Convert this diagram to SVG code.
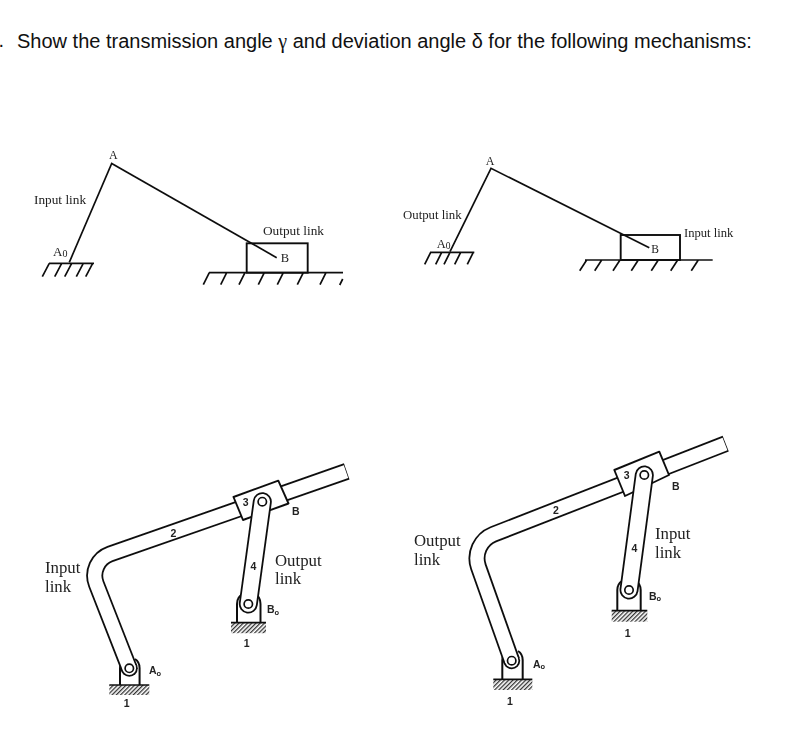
<svg xmlns="http://www.w3.org/2000/svg" width="797" height="732" viewBox="0 0 797 732">
<style>
.t{font-family:"Liberation Sans",Arial,sans-serif;font-size:20px;fill:#111}
.g{font-family:"Liberation Serif","Times New Roman",serif;font-size:20px;fill:#111}
.s{font-family:"Liberation Serif","Times New Roman",serif;fill:#222}
.lab{font-size:13.3px}
.big{font-size:16.8px}
.b{font-family:"Liberation Sans",Arial,sans-serif;font-weight:bold;font-size:10.5px;fill:#222;text-anchor:middle}
.ln{fill:none;stroke:#111;stroke-width:1.7}
.box{fill:none;stroke:#111;stroke-width:1.9}
.cl{fill:none;stroke:#111;stroke-width:2}
.ol{fill:none;stroke:#111;stroke-width:17}
.il{fill:none;stroke:#fff;stroke-width:13.4}
.ol2{fill:none;stroke:#111;stroke-width:19;stroke-linecap:round}
.il2{fill:none;stroke:#fff;stroke-width:15.4;stroke-linecap:round}
.sl{fill:#fff;stroke:#111;stroke-width:1.9;stroke-linejoin:round}
.pin{fill:#fff;stroke:#111;stroke-width:1.7}
.ec{fill:#111}
.ei{fill:#fff}
.h{fill:url(#hatch);stroke:none}
</style>
<defs>
<pattern id="hatch" width="3" height="3" patternUnits="userSpaceOnUse" patternTransform="rotate(45)">
<rect width="3" height="3" fill="#fff"/>
<rect width="1.3" height="3" fill="#333"/>
</pattern>
<filter id="soft" x="-5%" y="-5%" width="110%" height="110%"><feGaussianBlur stdDeviation="0.35"/></filter>
</defs>
<rect width="797" height="732" fill="#fff"/>
<g id="title">
<text class="t" x="-1.5" y="47">.</text>
<text class="t" x="17" y="48">Show the transmission angle <tspan class="g">γ</tspan> and deviation angle δ for the following mechanisms:</text>
</g>
<g id="mechanism-1" filter="url(#soft)">
<path class="ln" d="M69.3 262.3L111.7 163.5L276.7 257.7"/>
<rect class="box" x="246.7" y="243.3" width="61" height="29.4"/>
<path class="ln" d="M49 263.3H94M49.3 263.3l-7 13.3M61.7 263.3l-7 13.3M71.7 263.3l-7 13.3M83.3 263.3l-7 13.3M92.7 263.3l-7 13.3"/>
<path class="ln" d="M209 272.7H343M209.3 272.7l-6 12M226.7 272.7l-6 12M245 272.7l-6 12M264.3 272.7l-6 12M283.3 272.7l-6 12M303.3 272.7l-6 12M326 272.7l-6 12M342.7 279l-3 6"/>
<g class="s lab">
<text x="113.3" y="158.5" text-anchor="middle" font-size="12">A</text>
<text x="34" y="203.5">Input link</text>
<text x="53" y="256" font-size="13">A<tspan font-size="10" dy="1">0</tspan></text>
<text x="263" y="234.5">Output link</text>
<text x="285" y="262" text-anchor="middle" font-size="12.5">B</text>
</g>
</g>
<g id="mechanism-2" filter="url(#soft)">
<path class="ln" d="M450 251.7L491 168.3L649.3 247.7"/>
<rect class="box" x="620.7" y="235" width="59.3" height="25"/>
<path class="ln" d="M430 252.3H474.3M430.7 252.3l-6 12M441.7 252.3l-6 12M450 252.3l-6 12M460.7 252.3l-6 12M473.3 252.3l-6 12"/>
<path class="ln" d="M585 260H712.7M586.7 260l-7 10.7M601.7 260l-7 10.7M620 260l-7 10.7M638.3 260l-7 10.7M658.3 260l-7 10.7M677.7 260l-7 10.7M698.3 260l-7 10.7"/>
<g class="s">
<text x="490" y="165" text-anchor="middle" font-size="12">A</text>
<text x="403" y="219" font-size="12.8">Output link</text>
<text x="436.7" y="248" font-size="12.5">A<tspan font-size="9.5" dy="1">0</tspan></text>
<text x="684" y="237.3" font-size="12.6">Input link</text>
<text x="655" y="253" text-anchor="middle" font-size="11.5">B</text>
</g>
</g>
<g id="mechanism-3" filter="url(#soft)">
<g id="m3-base-a0">
<rect class="h" x="109.3" y="685" width="40" height="10"/>
<path class="ln" d="M109.3 685H149.3"/>
<path class="cl" d="M120 685V668Q120 662 125 659M139.6 685V668Q139.6 662 135 659"/>
</g>
<g id="m3-link-2">
<path class="ol" d="M346.7 471.4L110 554A23 23 0 0 0 96.3 584L129.3 668.3"/>
<circle class="ec" cx="129.3" cy="668.3" r="8.5"/>
<path class="il" d="M346 471.7L110 554A23 23 0 0 0 96.3 584L129.3 668.3"/>
<circle class="ei" cx="129.3" cy="668.3" r="6.7"/>
<circle class="pin" cx="129.3" cy="668.3" r="4.2"/>
</g>
<g id="m3-slider-3"><path class="sl" d="M233.5 497L278.3 480.7L288.5 503.5L243 520Z"/></g>
<g id="m3-base-b0">
<rect class="h" x="231" y="622.7" width="35" height="10.5"/>
<path class="ln" d="M231 622.7H266"/>
<path class="cl" d="M237 622.7V604Q237 597 243 594M260.5 622.7V604Q260.5 597 255 594"/>
</g>
<g id="m3-link-4">
<path class="ol2" d="M262.3 501.7L248.3 604"/>
<path class="il2" d="M262.3 501.7L248.3 604"/>
<circle class="pin" cx="262.3" cy="501.7" r="4.2"/>
<circle class="pin" cx="248.3" cy="604" r="4.2"/>
</g>
<g>
<text class="b" x="245.7" y="505.5">3</text>
<text class="b" x="295.7" y="514.5">B</text>
<text class="b" x="173.3" y="536.5">2</text>
<text class="b" x="253.3" y="569.5">4</text>
<text class="b" x="126.7" y="707">1</text>
<text class="b" x="246.7" y="647">1</text>
<text class="b" x="155" y="674">A<tspan font-size="7.5" dy="1.5">o</tspan></text>
<text class="b" x="273" y="613">B<tspan font-size="7.5" dy="1.5">o</tspan></text>
</g>
<g class="s big">
<text x="275" y="566">Output</text>
<text x="275" y="584">link</text>
<text x="45" y="573">Input</text>
<text x="45" y="592">link</text>
</g>
</g>
<g id="mechanism-4" filter="url(#soft)">
<g id="m4-base-a0">
<rect class="h" x="493.3" y="679.3" width="39" height="10.7"/>
<path class="ln" d="M493.3 679.3H532.3"/>
<path class="cl" d="M502.3 679.3V660Q502.3 654 507 651M522.7 679.3V660Q522.7 654 518 651"/>
</g>
<g id="m4-link-2">
<path class="ol" d="M725.7 443.7L493.3 534.3A26 26 0 0 0 478.4 566.8L511.7 660.7"/>
<circle class="ec" cx="511.7" cy="660.7" r="8.5"/>
<path class="il" d="M725 444L493.3 534.3A26 26 0 0 0 478.4 566.8L511.7 660.7"/>
<circle class="ei" cx="511.7" cy="660.7" r="6.7"/>
<circle class="pin" cx="511.7" cy="660.7" r="4.2"/>
</g>
<g id="m4-slider-3"><path class="sl" d="M614.3 470L659.3 451.7L669 475L625 496Z"/></g>
<g id="m4-base-b0">
<rect class="h" x="611.7" y="610.7" width="35.6" height="11"/>
<path class="ln" d="M611.7 610.7H647.3"/>
<path class="cl" d="M617.3 610.7V590Q617.3 584 622 581M640.7 610.7V590Q640.7 584 636 581"/>
</g>
<g id="m4-link-4">
<path class="ol2" d="M644.3 475L629 590"/>
<path class="il2" d="M644.3 475L629 590"/>
<circle class="pin" cx="644.3" cy="475" r="4.2"/>
<circle class="pin" cx="629" cy="590" r="4.2"/>
</g>
<g>
<text class="b" x="626.7" y="478.5">3</text>
<text class="b" x="675.7" y="489.5">B</text>
<text class="b" x="556" y="513.5">2</text>
<text class="b" x="634.3" y="552">4</text>
<text class="b" x="510" y="705">1</text>
<text class="b" x="627.7" y="637">1</text>
<text class="b" x="539" y="667.5">A<tspan font-size="7.5" dy="1.5">o</tspan></text>
<text class="b" x="655" y="599.5">B<tspan font-size="7.5" dy="1.5">o</tspan></text>
</g>
<g class="s big">
<text x="414" y="545.5">Output</text>
<text x="414" y="565">link</text>
<text x="655" y="539">Input</text>
<text x="655" y="558">link</text>
</g>
</g>
</svg>
